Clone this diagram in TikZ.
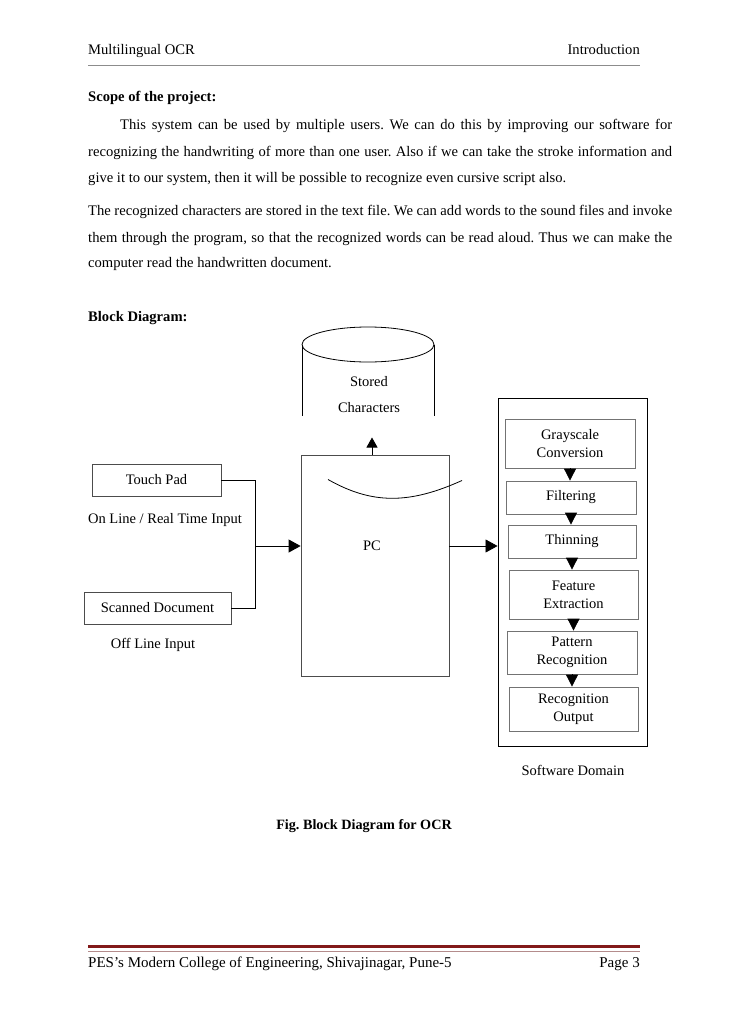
\documentclass[tikz,border=0pt]{standalone}
\usepackage{fontspec}
\setmainfont{Liberation Serif}
\usetikzlibrary{arrows.meta}
\frenchspacing
\begin{document}
\begin{tikzpicture}[x=1pt,y=-1pt,
  box/.style={draw=black!70,line width=0.8pt,inner sep=0pt,align=center,font=\fontsize{14.5}{16}\selectfont},
  swbox/.style={draw=black!55,line width=0.8pt,inner sep=0pt,align=center,font=\fontsize{14.5}{18}\selectfont},
  lbl/.style={inner sep=0pt,font=\fontsize{14.5}{16}\selectfont},
  body/.style={inner sep=0pt,anchor=base west,font=\fontsize{14.6}{17}\selectfont},
  conn/.style={line width=0.8pt},
  bigarrow/.style={conn,-{Triangle[length=12pt,width=13pt]}},
  smallarrow/.style={conn,-{Triangle[length=12pt,width=12pt]}}
]
\useasboundingbox (0,0) rectangle (728,1030);
\fill[white] (0,0) rectangle (728,1030);

% header
\node[body,font=\fontsize{14.6}{16}\selectfont] (hl) at (88,55) {Multilingual OCR};
\node[inner sep=0pt,anchor=base east,font=\fontsize{14.6}{16}\selectfont] (hr) at (640,55) {Introduction};
\draw[black!45,line width=1pt] (88,66) -- (640,66);

% body text
\node[body,font=\fontsize{14.6}{17}\selectfont\bfseries] (t0) at (88,102) {Scope of the project:};
\node[body] (t1) at (120,130) {\makebox[552pt][s]{This system can be used by multiple users. We can do this by improving our software for}};
\node[body] (t2) at (88,157) {\makebox[584pt][s]{recognizing the handwriting of more than one user. Also if we can take the stroke information and}};
\node[body] (t3) at (88,182) {give it to our system, then it will be possible to recognize even cursive script also.};
\node[body] (t4) at (88,215) {\makebox[584pt][s]{The recognized characters are stored in the text file. We can add words to the sound files and invoke}};
\node[body] (t5) at (88,242) {\makebox[584pt][s]{them through the program, so that the recognized words can be read aloud. Thus we can make the}};
\node[body] (t6) at (88,267) {computer read the handwritten document.};
\node[body,font=\fontsize{14.6}{17}\selectfont\bfseries] (t7) at (88,321) {Block Diagram:};

% stored characters cylinder
\draw[line width=0.8pt] (368,344.5) ellipse (66 and 17.5);
\draw[line width=0.8pt] (302,344.5) -- (302,416);
\draw[line width=0.8pt] (434,344.5) -- (434,416);
\node[lbl] (st1) at (369,382) {Stored};
\node[lbl] (st2) at (369,408) {Characters};
\coordinate (stin) at (372,437.5);

% inputs
\node[box,minimum width=129pt,minimum height=32pt] (tp) at (156.5,480) {Touch Pad};
\node[lbl] (onl) at (165,520) {On Line / Real Time Input};
\node[box,minimum width=147pt,minimum height=32pt] (sd) at (157.5,608) {Scanned Document};
\node[lbl] (offl) at (153,645) {Off Line Input};

% PC
\node[box,minimum width=148pt,minimum height=221pt] (pc) at (375,565.5) {};
\node[lbl] (pcl) at (372,546) {PC};
\draw[line width=0.8pt] (328,479.5) .. controls (372,504.4) and (409,504.4) .. (462,480.5);

% software domain
\node[draw=black,line width=0.9pt,minimum width=149pt,minimum height=348pt,inner sep=0pt] (sw) at (572.5,572) {};
\node[swbox,minimum width=130pt,minimum height=49pt] (gs) at (570,443.5) {Grayscale\\Conversion};
\node[swbox,minimum width=130pt,minimum height=33pt] (fi) at (571,497.5) {Filtering};
\node[swbox,minimum width=128pt,minimum height=33pt] (th) at (572,541.5) {Thinning};
\node[swbox,minimum width=129pt,minimum height=49pt] (fe) at (573.5,594.5) {Feature\\Extraction};
\node[swbox,minimum width=130pt,minimum height=43pt] (pr) at (572,652.5) {Pattern\\Recognition};
\node[swbox,minimum width=129pt,minimum height=44pt] (ro) at (573.5,709) {Recognition\\Output};
\node[lbl] (swl) at (573,770) {Software Domain};

% connectors
\coordinate (j) at (255,546);
\draw[conn] (tp.east) -- (tp.east -| j) -- (sd.east -| j) -- (sd.east);
\draw[bigarrow] (j) -- (j -| pc.west);
\draw[bigarrow] (pc.east |- j) -- (sw.west |- j);
\draw[conn,-{Triangle[length=10pt,width=11pt]}] (stin |- pc.north) -- (stin);
\draw[smallarrow] (gs.south) -- (gs.south |- fi.north);
\draw[smallarrow] (fi.south) -- (fi.south |- th.north);
\draw[smallarrow] (th.south) -- (th.south |- fe.north);
\draw[smallarrow] (fe.south) -- (fe.south |- pr.north);
\draw[smallarrow] (pr.south) -- (pr.south |- ro.north);

% caption
\node[lbl,font=\fontsize{14.2}{17}\selectfont\bfseries] (cap) at (364,826) {Fig. Block Diagram for OCR};

% footer
\draw[line width=3pt,color={rgb,255:red,130;green,25;blue,25}] (88,946.5) -- (640,946.5);
\draw[line width=0.8pt,color={rgb,255:red,180;green,140;blue,140}] (88,951) -- (640,951);
\node[body,font=\fontsize{15}{17}\selectfont] (fl) at (88,967) {PES's Modern College of Engineering, Shivajinagar, Pune-5};
\node[inner sep=0pt,anchor=base east,font=\fontsize{15}{17}\selectfont] (fr) at (640,967) {Page 3};
\end{tikzpicture}
\end{document}
